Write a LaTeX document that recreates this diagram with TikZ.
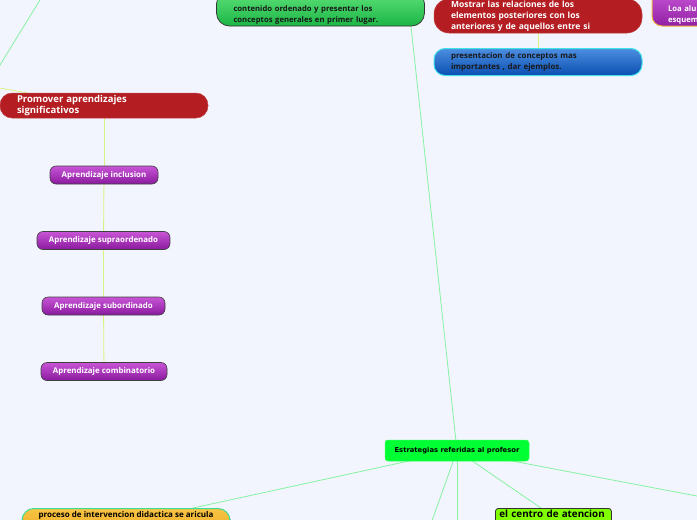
\documentclass[tikz,border=0pt]{standalone}
\usepackage{fontspec}
\setmainfont{Open Sans}
\newfontfamily\dejavu{DejaVu Sans}
\usetikzlibrary{backgrounds}
\definecolor{bgc}{HTML}{F2F5FD}
\definecolor{connG}{HTML}{86F2A2}
\definecolor{connY}{HTML}{D6F480}
\definecolor{redN}{HTML}{B41E22}
\definecolor{purpT}{HTML}{C855D6}
\definecolor{purpB}{HTML}{8A1A9E}
\definecolor{greenT}{HTML}{5EE27A}
\definecolor{greenB}{HTML}{1CB545}
\definecolor{blueT}{HTML}{4C8EE0}
\definecolor{blueB}{HTML}{0A4FB2}
\definecolor{cyanE}{HTML}{3FE3E6}
\definecolor{ctrG}{HTML}{00FF33}
\definecolor{oranT}{HTML}{F7C445}
\definecolor{oranB}{HTML}{F0AE28}
\definecolor{oranE}{HTML}{3CDC98}
\definecolor{limeN}{HTML}{80FF00}
\definecolor{goldE}{HTML}{F2B63A}
\begin{document}
\begin{tikzpicture}[x=1pt,y=-1pt,
  conn/.style={draw=connG, line width=0.8pt},
  connyel/.style={draw=connY, line width=0.8pt},
  bigbox/.style={align=left, inner xsep=17pt, inner ysep=0pt, text width=174pt},
  redbox/.style={bigbox, fill=redN, draw=redN!85!white, line width=0.5pt, text=white},
  purpbox/.style={rounded corners=6pt, draw=black!75, line width=0.6pt, top color=purpT, bottom color=purpB, text=white, font=\bfseries\fontsize{7.9}{9}\selectfont, inner xsep=0pt, inner ysep=0pt, minimum height=18pt},
]
\useasboundingbox (0,0) rectangle (697,520);

% top green node
\node[bigbox, rounded corners=13pt, draw=black!80, line width=0.7pt, top color=greenT, bottom color=greenB, text=black!90,
      font=\bfseries\fontsize{7.7}{11}\selectfont, minimum height=35pt] (gtop) at (320.5,8.5)
  {\strut\\contenido ordenado y presentar los\\conceptos generales en primer lugar.};

% red Mostrar node
\node[fill=redN, draw=redN!85!white, line width=0.5pt, text=white, rounded corners=15pt,
      align=left, text width=174pt, inner xsep=17pt, inner ysep=0pt,
      font=\bfseries\fontsize{8.5}{11}\selectfont, minimum height=34pt] (mostrar) at (538,16)
  {Mostrar las relaciones de los\\elementos posteriores con los\\anteriores y de aquellos entre si};

% purple right node (cut)
\node[align=left, inner xsep=16pt, inner ysep=0pt, text width=76pt, rounded corners=10pt, draw=goldE, line width=1pt,
      top color=purpT, bottom color=purpB!90!purpT, text=white, font=\bfseries\fontsize{7.7}{11}\selectfont, minimum height=35pt]
      (loa) at (706,8.5) {\strut\\Loa alu\\esquem};

% blue node
\node[bigbox, rounded corners=11pt, draw=cyanE, line width=1pt, top color=blueT, bottom color=blueB, text=black!90,
      font=\bfseries\fontsize{7.9}{11}\selectfont, minimum height=27pt] (azul) at (538,62)
  {presentacion de conceptos mas\\importantes , dar ejemplos.};

% red Promover node
\node[redbox, rounded corners=12pt, font=\bfseries\fontsize{9.5}{10.5}\selectfont, minimum height=25pt] (prom) at (104,105.5)
  {Promover aprendizajes\\significativos};

% purple nodes
\node[purpbox, minimum width=108pt] (incl) at (104,175) {Aprendizaje inclusion};
\node[purpbox, minimum width=133pt] (supra) at (103.5,240.5) {Aprendizaje supraordenado};
\node[purpbox, minimum width=123pt] (sub) at (103.5,306) {Aprendizaje subordinado};
\node[purpbox, minimum width=126pt] (comb) at (104,371.5) {Aprendizaje combinatorio};

% central node
\node[rounded corners=3pt, fill=ctrG, draw=ctrG!80!white, line width=0.5pt, minimum width=144pt, minimum height=21pt,
      inner sep=0pt, font=\dejavu\bfseries\fontsize{6.8}{8}\selectfont, text=black] (ctr) at (457,450.5)
  {Estrategias referidas al profesor};

% orange node (cut)
\node[anchor=north, align=center, rounded corners=12pt, draw=oranE, line width=1pt, top color=oranT, bottom color=oranB,
      minimum width=208pt, inner xsep=0pt, inner ysep=2.5pt, text=black,
      font=\bfseries\fontsize{8}{11}\selectfont] (proc) at (126,508)
  {proceso de intervencion didactica se aricula\\\mbox{}};

% lime node (cut)
\node[anchor=north west, align=left, rounded corners=3pt, draw=black!80, line width=0.8pt, fill=limeN,
      text width=108pt, inner xsep=4pt, inner ysep=2pt, text=black,
      font=\bfseries\fontsize{9.8}{13}\selectfont] (lime) at (495,508)
  {\mbox{el centro de atencion}\\\mbox{}};

% off-picture ends
\coordinate (offTL1) at (48,-13);
\coordinate (offTL2) at (-8,78);
\coordinate (offY) at (-40,81);
\coordinate (offD1) at (418,560);
\coordinate (offD2) at (457,560);
\coordinate (offR) at (760,508);

\begin{pgfonlayer}{background}
  \fill[bgc] (-100,-100) rectangle (800,620);
  \draw[conn] (offTL1) -- (offTL2);
  \draw[connyel] (offY) -- ([xshift=27pt]prom.north west);
  \draw[connyel] (prom.center) -- (incl.center);
  \draw[connyel] (incl.center) -- (supra.center);
  \draw[connyel] (supra.center) -- (sub.center);
  \draw[connyel] (sub.center) -- (comb.center);
  \draw[connyel] (mostrar.center) -- (azul.center);
  \draw[conn] (ctr.center) -- ([xshift=90.5pt]gtop.south);
  \draw[conn] (ctr.center) -- ([xshift=67pt]proc.north);
  \draw[conn] (ctr.center) -- ([xshift=-12.5pt]lime.north);
  \draw[conn] (ctr.center) -- (offD1);
  \draw[conn] (ctr.center) -- (offD2);
  \draw[conn] (ctr.center) -- (offR);
\end{pgfonlayer}
\end{tikzpicture}
\end{document}
